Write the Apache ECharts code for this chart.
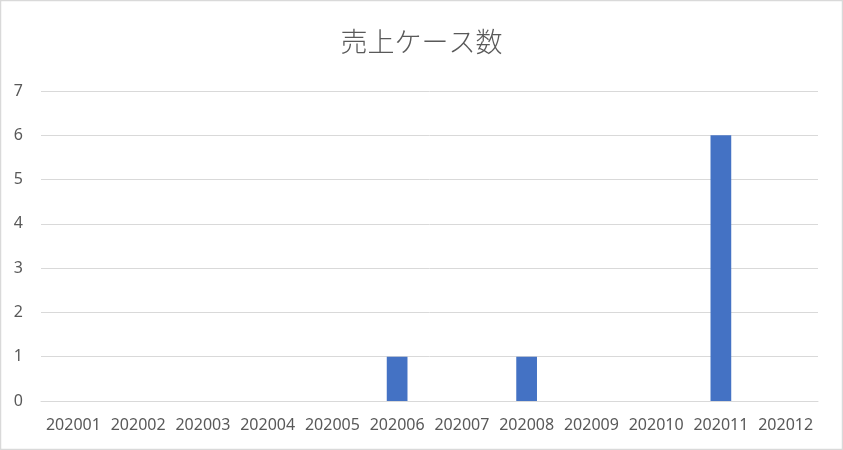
<!DOCTYPE html>
<html>
<head>
<meta charset="utf-8">
<script src="https://cdn.jsdelivr.net/npm/echarts@6/dist/echarts.min.js"></script>
<style>
html,body{margin:0;padding:0;background:#fff;}
#c{width:843px;height:450px;}
</style>
</head>
<body>
<div id="c"></div>
<script>
var categories = ['202001','202002','202003','202004','202005','202006','202007','202008','202009','202010','202011','202012'];
var salesCases = [0,0,0,0,0,1,0,1,0,0,6,0];
var titleText = '売上ケース数';

var chart = echarts.init(document.getElementById('c'), null, {renderer:'canvas'});
chart.setOption({
  backgroundColor: '#ffffff',
  animation: false,
  graphic: [{
    type: 'rect',
    shape: {x: 0.5, y: 0.5, width: 842, height: 449},
    style: {fill: 'none', stroke: '#d9d9d9', lineWidth: 1.5},
    silent: true
  }],
  title: {
    text: titleText,
    left: 'center',
    top: 23,
    textStyle: {
      fontFamily: 'Noto Sans CJK JP',
      fontSize: 27,
      fontWeight: 300,
      color: '#595959'
    }
  },
  grid: {left: 41, right: 25, top: 91, bottom: 49, containLabel: false},
  xAxis: {
    type: 'category',
    data: categories,
    axisLine: {show: true, lineStyle: {color: '#d9d9d9', width: 1}},
    axisTick: {show: false},
    axisLabel: {
      interval: 0,
      margin: 16,
      color: '#595959',
      fontSize: 16,
      fontFamily: 'Noto Sans'
    }
  },
  yAxis: {
    type: 'value',
    min: 0,
    max: 7,
    interval: 1,
    axisLine: {show: false},
    axisTick: {show: false},
    splitLine: {lineStyle: {color: '#d9d9d9', width: 1}},
    axisLabel: {
      margin: 18,
      color: '#595959',
      fontSize: 16,
      fontFamily: 'Noto Sans'
    }
  },
  series: [{
    type: 'bar',
    data: salesCases,
    barWidth: '32%',
    itemStyle: {color: '#4472c4'}
  }]
});
</script>
</body>
</html>
